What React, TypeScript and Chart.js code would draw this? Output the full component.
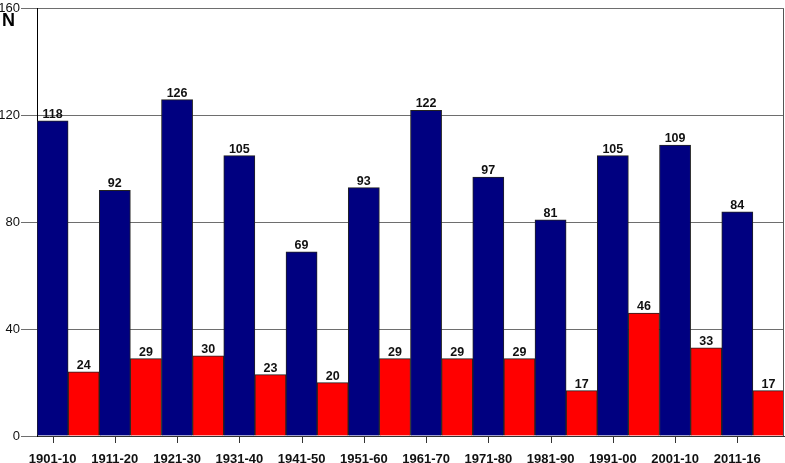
import React, { useEffect, useRef } from "react";
import { Chart, registerables } from "chart.js";

Chart.register(...registerables);

const categories = [
  "1901-10", "1911-20", "1921-30", "1931-40", "1941-50", "1951-60",
  "1961-70", "1971-80", "1981-90", "1991-00", "2001-10", "2011-16",
];
const blueValues = [118, 92, 126, 105, 69, 93, 122, 97, 81, 105, 109, 84];
const redValues = [24, 29, 30, 23, 20, 29, 29, 29, 17, 46, 33, 17];
const yTicks = [0, 40, 80, 120, 160];
const yAxisTitle = "N";

const FONT = "'Liberation Sans', Arial, sans-serif";

const extrasPlugin = {
  id: "extras",
  afterDatasetsDraw(chart: any) {
    const ctx = chart.ctx;
    const area = chart.chartArea;
    const xs = chart.scales.x;
    // data labels
    ctx.save();
    ctx.font = `bold 12.5px ${FONT}`;
    ctx.fillStyle = "#111";
    ctx.textAlign = "center";
    ctx.textBaseline = "alphabetic";
    chart.data.datasets.forEach((ds: any, di: number) => {
      const meta = chart.getDatasetMeta(di);
      meta.data.forEach((el: any, i: number) => {
        ctx.fillText(String(ds.data[i]), el.x, el.y - 3);
      });
    });
    ctx.restore();

    // right border
    ctx.save();
    ctx.strokeStyle = "#555";
    ctx.lineWidth = 1;
    ctx.beginPath();
    ctx.moveTo(Math.round(area.right) - 0.5, area.top);
    ctx.lineTo(Math.round(area.right) - 0.5, area.bottom);
    ctx.stroke();

    // x tick marks under the first bar of each group
    const catW = (area.right - area.left) / categories.length;
    ctx.strokeStyle = "#333";
    ctx.beginPath();
    categories.forEach((_, i) => {
      const px = Math.round(xs.getPixelForTick(i) - catW / 4) + 0.5;
      ctx.moveTo(px, area.bottom);
      ctx.lineTo(px, area.bottom + 7);
    });
    ctx.stroke();

    // axis title
    ctx.font = `bold 18px ${FONT}`;
    ctx.fillStyle = "#000";
    ctx.textAlign = "left";
    ctx.textBaseline = "alphabetic";
    ctx.fillText(yAxisTitle, 2, 26);
    ctx.restore();
  },
};

export default function App() {
  const canvasRef = useRef<HTMLCanvasElement | null>(null);

  useEffect(() => {
    if (!canvasRef.current) return;
    const catW = 747 / categories.length;
    const chart = new Chart(canvasRef.current, {
      type: "bar",
      data: {
        labels: categories,
        datasets: [
          {
            data: blueValues,
            backgroundColor: "#000080",
            borderColor: "#222",
            borderWidth: 1,
            categoryPercentage: 1,
            barPercentage: 1,
          },
          {
            data: redValues,
            backgroundColor: "#ff0000",
            borderColor: "#222",
            borderWidth: 1,
            categoryPercentage: 1,
            barPercentage: 1,
          },
        ],
      },
      options: {
        responsive: false,
        animation: false,
        devicePixelRatio: 1,
        layout: { padding: { top: 5, right: 1, left: 0, bottom: 0 } },
        plugins: {
          legend: { display: false },
          tooltip: { enabled: false },
        },
        scales: {
          x: {
            offset: true,
            grid: { display: true, drawOnChartArea: false, drawTicks: false, color: "rgba(0,0,0,0)" },
            border: { display: true, color: "#333", width: 1 },
            ticks: {
              color: "#111",
              font: { family: FONT, size: 13, weight: "bold" },
              padding: 16,
              labelOffset: -catW / 4,
              maxRotation: 0,
              autoSkip: false,
            },
            afterFit: (scale: any) => {
              scale.height = 27;
              scale.paddingLeft = 0;
              scale.paddingRight = 0;
            },
          },
          y: {
            min: 0,
            max: 160,
            afterBuildTicks: (scale: any) => {
              scale.ticks = yTicks.map((v) => ({ value: v }));
            },
            grid: { color: "#6e6e6e", lineWidth: 1, tickLength: 16, drawTicks: true },
            border: { display: true, color: "#000", width: 1 },
            ticks: {
              color: "#111",
              font: { family: FONT, size: 13 },
              padding: 1,
            },
            afterFit: (scale: any) => {
              scale.width = 37;
            },
          },
        },
      },
      plugins: [extrasPlugin],
    } as any);
    return () => chart.destroy();
  }, []);

  return (
    <div style={{ position: "absolute", left: 0, top: 0, width: 785, height: 463 }}>
      <canvas ref={canvasRef} width={785} height={463} style={{ display: "block" }} />
    </div>
  );
}
